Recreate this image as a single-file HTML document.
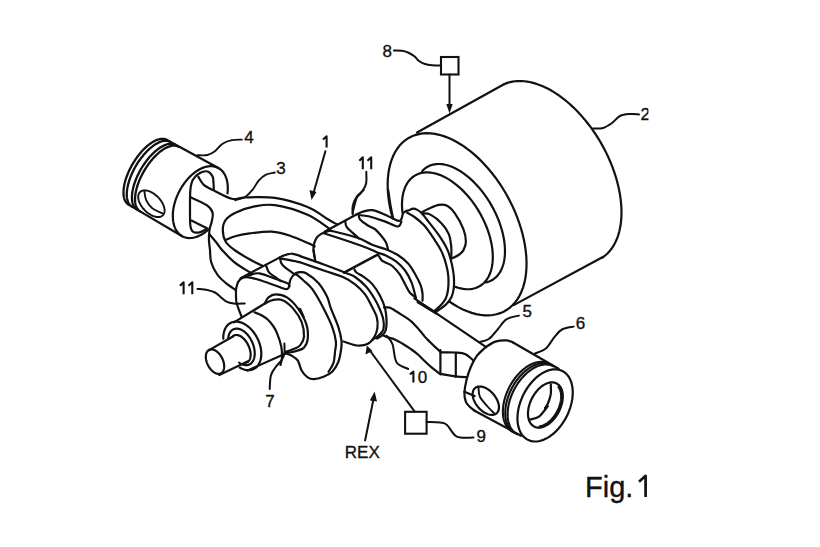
<!DOCTYPE html>
<html><head><meta charset="utf-8"><style>
html,body{margin:0;padding:0;background:#fff;width:820px;height:547px;overflow:hidden}
svg{position:absolute;left:0;top:0}
text{font-family:"Liberation Sans",sans-serif;fill:#111;stroke:#111;stroke-width:0.35px}
</style></head><body>
<svg width="820" height="547" viewBox="0 0 820 547">
<rect width="820" height="547" fill="#fff"/>
<g fill="none" stroke="#111" stroke-linecap="round" stroke-linejoin="round">
<path d="M393.9,50.6 C395.2,50.6 399.6,50.5 402.0,50.8 C404.4,51.1 405.9,51.6 408.0,52.5 C410.1,53.4 412.5,54.8 414.4,56.3 C416.3,57.8 417.6,60.0 419.4,61.3 C421.2,62.6 422.9,63.4 425.0,64.0 C427.1,64.7 429.3,65.0 432.0,65.2 C434.7,65.4 439.5,65.4 441.0,65.4" stroke-width="2.0"/>
<path d="M449.5,74.4 L449.5,106.0" stroke-width="2.0"/>
<path d="M593.0,128.5 C594.7,128.4 599.8,128.9 603.0,128.0 C606.2,127.1 609.2,125.0 612.0,123.0 C614.8,121.0 617.0,117.5 620.0,116.0 C623.0,114.5 626.8,114.3 630.0,114.0 C633.2,113.7 637.5,114.3 639.0,114.4" stroke-width="2.0"/>
<path d="M241.9,139.6 C240.1,139.7 234.2,139.7 230.9,140.4 C227.6,141.1 224.9,142.2 222.2,144.0 C219.5,145.8 217.3,149.5 214.9,151.3 C212.5,153.1 210.4,154.3 207.5,155.0 C204.6,155.7 199.0,155.2 197.3,155.2" stroke-width="1.9"/>
<path d="M274.8,172.5 C273.3,172.9 268.7,173.3 266.0,174.7 C263.3,176.0 260.9,178.2 258.7,180.6 C256.5,183.0 255.1,186.6 252.9,189.3 C250.7,192.0 248.5,194.8 245.6,196.6 C242.7,198.4 237.0,199.7 235.3,200.3" stroke-width="1.9"/>
<path d="M325.4,151.2 L313.5,193.0" stroke-width="2.0"/>
<path d="M366.3,171.7 C366.2,173.8 366.9,180.4 366.0,184.0 C365.1,187.6 362.6,190.7 361.0,193.0 C359.4,195.3 358.0,194.7 356.6,198.0 C355.2,201.3 353.3,210.5 352.6,213.0" stroke-width="2.0"/>
<path d="M197.5,288.9 C199.1,289.1 204.4,289.4 207.3,290.0 C210.2,290.6 212.8,291.4 215.0,292.5 C217.2,293.6 218.7,295.4 220.5,296.9 C222.3,298.4 223.8,300.2 226.0,301.3 C228.2,302.4 230.6,303.1 233.7,303.5 C236.8,303.9 242.9,303.5 244.7,303.5" stroke-width="2.0"/>
<path d="M518.8,315.6 C516.7,316.2 509.8,317.0 506.3,319.3 C502.8,321.6 500.5,326.2 497.6,329.5 C494.7,332.8 491.7,336.9 488.8,339.0 C485.9,341.1 481.5,341.5 480.0,342.0" stroke-width="2.0"/>
<path d="M573.6,326.6 C571.7,327.1 565.2,327.8 562.0,329.5 C558.8,331.2 557.3,333.6 554.6,336.8 C551.9,340.0 549.1,345.7 545.8,348.5 C542.5,351.3 536.8,352.7 535.0,353.5" stroke-width="2.0"/>
<path d="M269.7,388.9 C269.9,386.6 269.9,379.1 270.9,375.4 C271.9,371.7 273.9,369.5 275.8,366.9 C277.7,364.2 280.6,361.8 282.0,359.5 C283.4,357.2 284.0,356.0 284.4,353.4 C284.8,350.8 284.4,345.2 284.4,343.6" stroke-width="2.0"/>
<path d="M408.2,369.0 C406.2,367.9 399.1,366.3 396.5,362.2 C393.9,358.1 394.2,348.9 392.6,344.5 C391.0,340.1 387.7,337.2 386.7,335.7" stroke-width="2.0"/>
<path d="M414.9,411.8 L369.5,350.0" stroke-width="2.0"/>
<path d="M426.6,422.0 C428.8,422.1 436.6,422.0 440.0,422.5 C443.4,423.0 444.2,422.5 447.0,424.9 C449.8,427.2 452.4,434.5 456.8,436.6 C461.2,438.7 470.6,437.4 473.4,437.6" stroke-width="2.0"/>
<path d="M365.1,440.5 L373.5,399.0" stroke-width="2.0"/>
<path d="M417.0,132.5 L504.0,84.2" stroke-width="2.2"/>
<path d="M513.7,305.1 L602.4,257.3" stroke-width="2.2"/>
<path d="M504.00,84.22 L506.05,83.37 L508.17,82.65 L510.35,82.05 L512.59,81.59 L514.89,81.26 L517.23,81.06 L519.63,80.99 L522.07,81.06 L524.55,81.26 L527.06,81.58 L529.62,82.04 L532.20,82.63 L534.81,83.35 L537.44,84.20 L540.09,85.17 L542.76,86.27 L545.44,87.49 L548.12,88.84 L550.81,90.31 L553.50,91.89 L556.19,93.60 L558.86,95.41 L561.53,97.34 L564.18,99.37 L566.81,101.51 L569.42,103.75 L572.00,106.10 L574.55,108.53 L577.06,111.06 L579.54,113.68 L581.98,116.38 L584.37,119.16 L586.71,122.02 L589.00,124.96 L591.23,127.96 L593.41,131.02 L595.52,134.15 L597.57,137.32 L599.55,140.55 L601.46,143.83 L603.30,147.15 L605.06,150.50 L606.75,153.88 L608.35,157.30 L609.87,160.73 L611.30,164.18 L612.65,167.64 L613.90,171.11 L615.07,174.58 L616.14,178.04 L617.12,181.50 L618.00,184.95 L618.79,188.37 L619.47,191.78 L620.06,195.15 L620.55,198.49 L620.93,201.80 L621.22,205.06 L621.40,208.27 L621.48,211.44 L621.46,214.54 L621.34,217.59 L621.11,220.57 L620.78,223.48 L620.35,226.31 L619.83,229.07 L619.20,231.75 L618.47,234.34 L617.64,236.84 L616.72,239.25 L615.70,241.56 L614.59,243.77 L613.39,245.88 L612.09,247.88 L610.71,249.77 L609.24,251.55 L607.69,253.21 L606.05,254.76 L604.33,256.19 L602.54,257.50" stroke-width="2.2"/>
<path d="M392.61,218.16 L391.07,212.27 L389.81,206.42 L388.84,200.66 L388.15,194.99 L387.76,189.44 L387.66,184.05 L387.85,178.82 L388.34,173.79 L389.12,168.96 L390.18,164.38 L391.53,160.05 L393.15,155.98 L395.05,152.21 L397.21,148.75 L399.62,145.60 L402.28,142.78 L405.16,140.31 L408.27,138.20 L411.58,136.45 L415.09,135.07 L418.77,134.07 L422.62,133.45 L426.61,133.22 L430.73,133.37 L434.96,133.90 L439.29,134.82 L443.69,136.12 L448.15,137.79 L452.64,139.82 L457.16,142.22 L461.67,144.96 L466.17,148.03 L470.62,151.43 L475.02,155.14 L479.35,159.14 L483.58,163.42 L487.70,167.95 L491.68,172.72 L495.53,177.71 L499.20,182.90 L502.71,188.26 L506.01,193.77 L509.11,199.42 L512.00,205.16 L514.64,210.99 L517.05,216.88 L519.20,222.80 L521.09,228.72 L522.71,234.63 L524.05,240.49 L525.11,246.28 L525.88,251.98 L526.36,257.56 L526.54,263.01 L526.43,268.28 L526.03,273.38 L525.34,278.26 L524.36,282.92 L523.09,287.33 L521.54,291.47 L519.73,295.33 L517.64,298.88 L515.30,302.12 L512.72,305.04 L509.90,307.61 L506.85,309.82 L503.60,311.68 L500.15,313.17 L496.51,314.28 L492.71,315.01 L488.76,315.35 L484.68,315.31 L480.47,314.89 L476.17,314.08 L471.79,312.90 L467.35,311.33 L462.86,309.40 L458.35,307.11 L453.83,304.47 L449.33,301.49" stroke-width="2.2"/>
<path d="M422.15,171.15 L423.29,169.97 L424.50,168.88 L425.77,167.90 L427.12,167.03 L428.52,166.26 L429.99,165.61 L431.51,165.06 L433.08,164.63 L434.71,164.31 L436.38,164.10 L438.10,164.00 L439.85,164.02 L441.65,164.15 L443.48,164.40 L445.34,164.76 L447.23,165.23 L449.15,165.81 L451.08,166.50 L453.03,167.30 L454.99,168.21 L456.97,169.22 L458.94,170.34 L460.92,171.56 L462.90,172.88 L464.87,174.29 L466.83,175.80 L468.77,177.40 L470.70,179.08 L472.61,180.86 L474.49,182.71 L476.35,184.64 L478.17,186.65 L479.96,188.72 L481.71,190.87 L483.42,193.07 L485.08,195.33 L486.69,197.65 L488.26,200.02 L489.76,202.43 L491.21,204.88 L492.60,207.36 L493.93,209.88 L495.19,212.43 L496.39,214.99 L497.51,217.57 L498.56,220.16 L499.54,222.76 L500.44,225.36 L501.27,227.96 L502.01,230.55 L502.67,233.12 L503.26,235.68 L503.75,238.21 L504.17,240.71 L504.50,243.19 L504.74,245.62 L504.90,248.01 L504.97,250.36 L504.96,252.65 L504.86,254.89 L504.67,257.07 L504.39,259.18 L504.04,261.23 L503.59,263.20 L503.07,265.10 L502.46,266.92 L501.76,268.66 L500.99,270.31 L500.14,271.87 L499.21,273.33 L498.21,274.71 L497.13,275.98 L495.99,277.16 L494.77,278.23 L493.48,279.20 L492.13,280.06 L490.72,280.81 L489.25,281.46 L487.73,281.99 L486.15,282.41" stroke-width="2.2"/>
<path d="M402.54,213.00 L402.20,209.77 L402.02,206.62 L402.00,203.54 L402.13,200.56 L402.41,197.68 L402.85,194.92 L403.45,192.28 L404.19,189.77 L405.08,187.40 L406.12,185.19 L407.30,183.12 L408.62,181.23 L410.07,179.50 L411.65,177.95 L413.35,176.58 L415.17,175.39 L417.10,174.40 L419.13,173.60 L421.26,173.00 L423.48,172.59 L425.78,172.38 L428.16,172.38 L430.60,172.58 L433.10,172.97 L435.65,173.56 L438.24,174.36 L440.86,175.34 L443.50,176.51 L446.16,177.88 L448.82,179.42 L451.47,181.14 L454.11,183.03 L456.73,185.08 L459.32,187.29 L461.87,189.65 L464.36,192.15 L466.80,194.78 L469.17,197.54 L471.47,200.41 L473.68,203.39 L475.81,206.46 L477.83,209.61 L479.75,212.84 L481.57,216.13 L483.26,219.47 L484.83,222.84 L486.27,226.25 L487.58,229.67 L488.75,233.09 L489.78,236.51 L490.66,239.90 L491.40,243.27 L491.98,246.59 L492.41,249.86 L492.69,253.06 L492.81,256.19 L492.77,259.23 L492.58,262.17 L492.23,265.01 L491.73,267.72 L491.08,270.31 L490.28,272.77 L489.33,275.08 L488.24,277.23 L487.00,279.23 L485.63,281.07 L484.13,282.73 L482.50,284.21 L480.76,285.51 L478.90,286.62 L476.93,287.53 L474.85,288.26 L472.69,288.79 L470.44,289.11 L468.10,289.24 L465.70,289.17 L463.24,288.89 L460.72,288.42 L458.15,287.75 L455.55,286.89" stroke-width="2.2"/>
<path d="M128.60,204.63 L128.03,204.26 L127.49,203.84 L126.98,203.38 L126.50,202.86 L126.06,202.30 L125.65,201.69 L125.27,201.04 L124.93,200.34 L124.62,199.60 L124.35,198.82 L124.11,198.00 L123.92,197.13 L123.75,196.23 L123.63,195.29 L123.54,194.32 L123.49,193.31 L123.48,192.27 L123.51,191.20 L123.57,190.10 L123.67,188.98 L123.81,187.82 L123.98,186.64 L124.19,185.45 L124.44,184.23 L124.72,182.99 L125.04,181.73 L125.39,180.47 L125.78,179.18 L126.21,177.89 L126.66,176.59 L127.15,175.28 L127.67,173.97 L128.22,172.66 L128.80,171.34 L129.41,170.03 L130.05,168.72 L130.72,167.41 L131.41,166.12 L132.13,164.83 L132.87,163.55 L133.64,162.29 L134.43,161.05 L135.23,159.82 L136.06,158.60 L136.91,157.42 L137.77,156.25 L138.65,155.11 L139.54,153.99 L140.44,152.91 L141.36,151.85 L142.28,150.82 L143.22,149.83 L144.16,148.87 L145.10,147.95 L146.06,147.07 L147.01,146.22 L147.96,145.42 L148.92,144.65 L149.87,143.93 L150.82,143.26 L151.77,142.62 L152.71,142.04 L153.64,141.50 L154.56,141.01 L155.47,140.56 L156.37,140.17 L157.26,139.82 L158.13,139.53 L158.99,139.28 L159.83,139.09 L160.65,138.94 L161.45,138.85 L162.23,138.81 L162.99,138.82 L163.72,138.89 L164.43,139.00 L165.11,139.17 L165.77,139.39 L166.40,139.65 L167.00,139.97" stroke-width="2.3"/>
<path d="M131.88,206.55 L131.31,206.18 L130.77,205.76 L130.26,205.29 L129.78,204.78 L129.34,204.22 L128.92,203.61 L128.55,202.96 L128.21,202.26 L127.90,201.52 L127.63,200.74 L127.39,199.92 L127.19,199.05 L127.03,198.15 L126.91,197.21 L126.82,196.24 L126.77,195.23 L126.76,194.19 L126.78,193.12 L126.85,192.02 L126.95,190.89 L127.08,189.74 L127.26,188.56 L127.47,187.36 L127.72,186.15 L128.00,184.91 L128.32,183.65 L128.67,182.38 L129.06,181.10 L129.48,179.81 L129.94,178.51 L130.43,177.20 L130.95,175.89 L131.50,174.58 L132.08,173.26 L132.69,171.95 L133.33,170.64 L134.00,169.33 L134.69,168.04 L135.41,166.75 L136.15,165.47 L136.92,164.21 L137.70,162.96 L138.51,161.73 L139.34,160.52 L140.18,159.33 L141.05,158.17 L141.92,157.03 L142.82,155.91 L143.72,154.82 L144.64,153.77 L145.56,152.74 L146.50,151.75 L147.44,150.79 L148.38,149.87 L149.34,148.99 L150.29,148.14 L151.24,147.34 L152.20,146.57 L153.15,145.85 L154.10,145.18 L155.05,144.54 L155.99,143.96 L156.92,143.42 L157.84,142.92 L158.75,142.48 L159.65,142.09 L160.54,141.74 L161.41,141.44 L162.27,141.20 L163.11,141.01 L163.93,140.86 L164.73,140.77 L165.51,140.73 L166.27,140.74 L167.00,140.81 L167.71,140.92 L168.39,141.09 L169.05,141.30 L169.68,141.57 L170.28,141.89" stroke-width="2.3"/>
<path d="M137.06,209.58 L136.49,209.21 L135.94,208.79 L135.44,208.32 L134.96,207.81 L134.51,207.25 L134.10,206.64 L133.73,205.99 L133.38,205.29 L133.08,204.55 L132.81,203.77 L132.57,202.95 L132.37,202.08 L132.21,201.18 L132.09,200.24 L132.00,199.27 L131.95,198.26 L131.94,197.22 L131.96,196.15 L132.03,195.05 L132.13,193.92 L132.26,192.77 L132.44,191.59 L132.65,190.39 L132.90,189.18 L133.18,187.94 L133.50,186.68 L133.85,185.41 L134.24,184.13 L134.66,182.84 L135.12,181.54 L135.61,180.23 L136.13,178.92 L136.68,177.61 L137.26,176.29 L137.87,174.98 L138.51,173.67 L139.18,172.36 L139.87,171.07 L140.59,169.78 L141.33,168.50 L142.10,167.24 L142.88,165.99 L143.69,164.76 L144.52,163.55 L145.36,162.36 L146.23,161.20 L147.10,160.06 L147.99,158.94 L148.90,157.85 L149.81,156.80 L150.74,155.77 L151.67,154.78 L152.62,153.82 L153.56,152.90 L154.51,152.02 L155.47,151.17 L156.42,150.37 L157.38,149.60 L158.33,148.88 L159.28,148.21 L160.22,147.57 L161.16,146.99 L162.09,146.45 L163.02,145.95 L163.93,145.51 L164.83,145.12 L165.72,144.77 L166.59,144.47 L167.45,144.23 L168.28,144.04 L169.10,143.89 L169.91,143.80 L170.69,143.76 L171.44,143.77 L172.18,143.84 L172.89,143.95 L173.57,144.12 L174.23,144.33 L174.86,144.60 L175.46,144.92" stroke-width="2.3"/>
<path d="M140.16,211.39 L139.59,211.03 L139.05,210.61 L138.54,210.14 L138.06,209.63 L137.62,209.07 L137.21,208.46 L136.83,207.81 L136.49,207.11 L136.18,206.37 L135.91,205.59 L135.68,204.76 L135.48,203.90 L135.32,203.00 L135.19,202.06 L135.11,201.09 L135.06,200.08 L135.04,199.04 L135.07,197.97 L135.13,196.87 L135.23,195.74 L135.37,194.59 L135.54,193.41 L135.75,192.21 L136.00,190.99 L136.29,189.76 L136.60,188.50 L136.96,187.23 L137.35,185.95 L137.77,184.66 L138.23,183.36 L138.71,182.05 L139.23,180.74 L139.79,179.42 L140.37,178.11 L140.98,176.80 L141.62,175.49 L142.28,174.18 L142.98,172.88 L143.69,171.60 L144.44,170.32 L145.20,169.06 L145.99,167.81 L146.80,166.58 L147.62,165.37 L148.47,164.18 L149.33,163.02 L150.21,161.87 L151.10,160.76 L152.01,159.67 L152.92,158.62 L153.85,157.59 L154.78,156.60 L155.72,155.64 L156.67,154.72 L157.62,153.84 L158.57,152.99 L159.53,152.19 L160.48,151.42 L161.44,150.70 L162.39,150.02 L163.33,149.39 L164.27,148.81 L165.20,148.27 L166.12,147.77 L167.04,147.33 L167.94,146.93 L168.82,146.59 L169.70,146.29 L170.55,146.05 L171.39,145.85 L172.21,145.71 L173.01,145.62 L173.79,145.58 L174.55,145.59 L175.28,145.65 L175.99,145.77 L176.68,145.94 L177.33,146.15 L177.96,146.42 L178.57,146.74" stroke-width="2.3"/>
<path d="M167.0,140.0 L218.8,168.2" stroke-width="2.2"/>
<path d="M128.6,204.6 L181.8,236.0" stroke-width="2.2"/>
<path d="M208.29,229.77 L206.57,231.19 L204.84,232.49 L203.08,233.66 L201.31,234.70 L199.54,235.61 L197.77,236.37 L196.01,237.00 L194.27,237.48 L192.55,237.81 L190.87,237.99 L189.22,238.03 L187.63,237.91 L186.08,237.65 L184.59,237.23 L183.17,236.68 L181.82,235.98 L180.55,235.13 L179.36,234.15 L178.25,233.04 L177.24,231.80 L176.32,230.43 L175.51,228.95 L174.79,227.36 L174.18,225.66 L173.68,223.86 L173.30,221.97 L173.02,220.00 L172.86,217.96 L172.81,215.84 L172.87,213.68 L173.05,211.46 L173.34,209.21 L173.75,206.92 L174.26,204.62 L174.89,202.30 L175.62,199.98 L176.45,197.68 L177.38,195.39 L178.41,193.13 L179.52,190.90 L180.73,188.73 L182.01,186.61 L183.37,184.55 L184.80,182.56 L186.30,180.66 L187.85,178.85 L189.46,177.13 L191.11,175.52 L192.80,174.02 L194.52,172.63 L196.26,171.37 L198.02,170.23 L199.79,169.23 L201.57,168.36 L203.33,167.63 L205.09,167.05 L206.82,166.61 L208.53,166.32 L210.21,166.18 L211.84,166.19 L213.42,166.35 L214.95,166.66 L216.42,167.11 L217.82,167.71 L219.15,168.45 L220.40,169.33 L221.57,170.35 L222.65,171.50 L223.63,172.78 L224.52,174.18 L225.31,175.69 L225.99,177.32 L226.57,179.05 L227.04,180.87 L227.40,182.78 L227.64,184.78 L227.77,186.84 L227.79,188.97 L227.69,191.15 L227.48,193.38" stroke-width="2.2"/>
<path d="M213.8,190.0 C213.8,188.8 213.7,185.2 213.5,183.0 C213.3,180.8 213.6,178.4 212.6,176.5 C211.6,174.6 209.9,172.1 207.7,171.5 C205.5,170.9 202.0,171.8 199.5,173.2 C197.0,174.6 194.4,177.0 192.9,179.7 C191.4,182.4 190.9,184.6 190.4,189.6 C189.9,194.6 190.0,203.4 190.0,209.4 C190.0,215.4 189.9,222.1 190.4,225.8 C190.9,229.5 191.4,230.5 192.9,231.6 C194.4,232.7 197.3,232.8 199.5,232.4 C201.7,232.0 205.0,229.7 206.1,229.1" stroke-width="2.2"/>
<path d="M140.00,192.05 L140.55,191.58 L141.18,191.18 L141.86,190.86 L142.61,190.61 L143.41,190.45 L144.26,190.37 L145.15,190.37 L146.08,190.45 L147.04,190.62 L148.03,190.86 L149.05,191.19 L150.07,191.59 L151.11,192.07 L152.14,192.62 L153.17,193.23 L154.20,193.91 L155.20,194.65 L156.18,195.45 L157.13,196.30 L158.04,197.19 L158.92,198.13 L159.75,199.10 L160.52,200.09 L161.24,201.11 L161.90,202.15 L162.50,203.19 L163.02,204.24 L163.48,205.28 L163.86,206.32 L164.16,207.33 L164.39,208.33 L164.53,209.30 L164.60,210.23 L164.58,211.12 L164.48,211.97 L164.30,212.77 L164.04,213.51 L163.70,214.18 L163.29,214.80 L162.80,215.35 L162.25,215.82 L161.62,216.22 L160.94,216.54 L160.19,216.79 L159.39,216.95 L158.54,217.03 L157.65,217.03 L156.72,216.95 L155.76,216.78 L154.77,216.54 L153.75,216.21 L152.73,215.81 L151.69,215.33 L150.66,214.78 L149.63,214.17 L148.60,213.49 L147.60,212.75 L146.62,211.95 L145.67,211.10 L144.76,210.21 L143.88,209.27 L143.05,208.30 L142.28,207.31 L141.56,206.29 L140.90,205.25 L140.30,204.21 L139.78,203.16 L139.32,202.12 L138.94,201.08 L138.64,200.07 L138.41,199.07 L138.27,198.10 L138.20,197.17 L138.22,196.28 L138.32,195.43 L138.50,194.63 L138.76,193.89 L139.10,193.22 L139.51,192.60 Z" stroke-width="1.9"/>
<path d="M144.3,190.6 C144.6,192.1 144.8,196.9 146.1,199.8 C147.4,202.7 149.2,205.7 152.0,208.0 C154.8,210.3 160.8,212.6 162.6,213.5" stroke-width="1.9"/>
<path d="M198.4,177.0 C199.3,178.3 201.1,182.5 203.8,184.8 C206.5,187.1 210.0,188.7 214.7,191.0 C219.4,193.3 226.8,197.7 231.8,198.8 C236.9,199.9 237.8,197.7 245.0,197.5 C252.2,197.3 264.6,196.3 275.0,197.9 C285.4,199.5 298.9,203.5 307.6,207.0 C316.3,210.5 322.1,215.8 327.0,218.7 C331.9,221.6 335.3,223.5 337.0,224.5" stroke-width="2.2"/>
<path d="M190.6,197.3 C193.3,198.6 203.0,202.6 206.7,205.2 C210.4,207.8 211.8,209.9 212.6,212.6 C213.4,215.3 212.3,218.6 211.8,221.3 C211.3,224.0 210.0,227.4 209.6,228.6" stroke-width="2.2"/>
<path d="M191.4,220.6 L207.0,228.3" stroke-width="2.2"/>
<path d="M209.6,228.6 C209.5,230.3 208.8,235.3 208.9,238.9 C209.0,242.5 209.8,248.2 210.0,250.0" stroke-width="2.2"/>
<path d="M209.6,234.5 C210.7,235.8 213.9,239.4 216.0,242.0 C218.1,244.6 218.9,246.6 222.0,250.0 C225.1,253.4 229.7,258.5 234.5,262.3 C239.3,266.1 248.2,271.2 251.0,273.0" stroke-width="2.2"/>
<path d="M329.0,228.5 C325.4,226.2 316.6,218.7 307.6,214.8 C298.6,210.9 284.0,206.5 275.0,205.2 C266.0,203.8 260.0,205.5 253.5,206.7 C247.0,207.9 240.6,210.4 236.0,212.6 C231.4,214.8 227.9,217.0 225.7,219.9 C223.5,222.8 222.8,226.4 222.8,230.1 C222.8,233.8 223.8,238.5 225.7,241.8 C227.6,245.1 230.4,247.0 234.5,250.0 C238.6,253.0 245.7,257.2 250.4,259.8 C255.1,262.4 260.6,264.9 262.7,265.9" stroke-width="2.2"/>
<path d="M225.5,240.0 C227.2,239.3 231.9,237.1 236.0,236.0 C240.1,234.9 243.9,234.0 249.9,233.3 C255.9,232.6 265.1,231.3 271.8,231.7 C278.5,232.1 283.4,233.5 290.1,235.7 C296.8,237.9 307.9,243.1 312.0,244.9 C316.1,246.7 314.1,246.2 314.5,246.5" stroke-width="2.2"/>
<path d="M210.0,250.0 C210.2,252.0 210.0,258.2 211.2,262.2 C212.4,266.3 214.9,271.0 217.3,274.5 C219.8,278.0 222.8,280.5 225.9,283.1 C229.0,285.7 234.3,289.0 236.0,290.2" stroke-width="2.2"/>
<path d="M240.6,278.2 L282.3,256.1" stroke-width="2.2"/>
<path d="M282.3,256.1 C283.7,255.7 287.9,253.7 290.9,253.7 C293.8,253.6 298.5,255.5 300.0,255.9" stroke-width="2.2"/>
<path d="M281.1,258.6 C283.5,259.0 292.6,260.6 295.8,261.3 C298.9,261.9 299.3,262.1 300.0,262.3" stroke-width="2.2"/>
<path d="M235.7,290.4 C236.1,289.0 237.0,284.0 238.2,281.9 C239.4,279.8 240.9,278.3 243.1,277.6 C245.3,276.9 247.2,276.9 251.5,277.8 C255.8,278.7 263.7,281.4 269.0,283.2 C274.3,285.0 280.4,287.5 283.5,288.5 C286.6,289.5 286.5,289.3 287.4,289.0 C288.3,288.7 288.5,288.2 289.0,286.6 C289.5,285.0 289.4,281.7 290.5,279.5 C291.6,277.3 293.7,274.6 295.4,273.4 C297.1,272.1 299.8,272.2 300.7,272.0" stroke-width="2.2"/>
<path d="M236.0,290.4 C236.0,292.3 235.8,298.0 236.3,301.4 C236.9,304.9 238.5,308.7 239.4,311.2 C240.3,313.8 241.4,316.0 241.8,317.0" stroke-width="2.2"/>
<path d="M246.0,276.3 C246.7,276.1 247.8,275.5 250.0,275.0 C252.2,274.5 254.8,272.7 259.3,273.4 C263.8,274.1 272.5,277.8 276.8,279.3 C281.1,280.8 283.0,281.5 285.0,282.3 C287.0,283.1 287.9,283.3 288.6,284.0 C289.3,284.7 289.3,286.1 289.4,286.5" stroke-width="2.2"/>
<path d="M266.1,265.6 C266.6,266.7 267.5,270.5 269.0,272.4 C270.5,274.3 273.0,275.5 275.0,277.0 C277.0,278.5 279.8,280.5 280.8,281.2" stroke-width="2.2"/>
<path d="M279.8,257.4 C280.2,258.6 280.0,262.0 282.3,264.7 C284.5,267.4 291.0,271.6 293.3,273.3 C295.6,274.9 295.9,274.3 296.4,274.5" stroke-width="2.2"/>
<path d="M313.5,250.0 C313.6,251.0 314.1,254.2 314.5,256.1 C314.8,258.0 315.2,260.4 315.3,261.3" stroke-width="2.2"/>
<path d="M300.0,256.1 C304.1,257.5 316.9,261.9 324.5,264.7 C332.1,267.5 340.2,270.6 345.3,272.7 C350.4,274.8 351.6,274.6 355.1,277.0 C358.6,279.4 362.9,283.1 366.2,286.8 C369.5,290.5 372.5,295.3 374.7,299.0 C376.9,302.7 378.2,305.3 379.6,308.8 C381.1,312.3 382.8,316.7 383.4,320.1 C384.0,323.5 384.1,326.9 383.4,329.4 C382.7,331.8 381.1,333.1 379.4,334.8 C377.7,336.5 374.1,338.7 373.0,339.5" stroke-width="2.2"/>
<path d="M300.0,262.3 C304.1,263.7 317.4,268.4 324.5,270.8 C331.6,273.2 337.8,274.8 342.9,277.0 C348.0,279.2 351.4,281.4 355.1,284.3 C358.8,287.2 362.2,290.6 364.9,294.1 C367.6,297.6 369.1,301.2 371.1,305.1 C373.1,309.0 375.8,313.6 376.8,317.4 C377.9,321.2 377.8,324.8 377.4,328.1 C376.9,331.4 375.8,334.7 374.1,337.4 C372.4,340.1 370.3,342.8 367.4,344.1 C364.5,345.5 360.7,345.9 356.7,345.5 C352.7,345.1 345.6,342.2 343.4,341.5" stroke-width="2.2"/>
<path d="M344.1,272.7 L377.2,254.9" stroke-width="2.6"/>
<path d="M354.5,269.5 C354.8,270.0 355.0,271.3 356.5,272.5 C358.0,273.7 360.7,274.7 363.3,276.6 C365.9,278.5 369.5,280.9 372.3,284.1 C375.1,287.3 377.8,291.6 379.9,295.6 C382.0,299.7 384.0,304.1 385.1,308.4 C386.2,312.7 386.5,317.6 386.6,321.2 C386.7,324.8 386.4,327.8 385.7,330.2 C385.0,332.6 383.9,333.9 382.5,335.3 C381.1,336.7 377.9,338.0 377.0,338.5" stroke-width="2.2"/>
<path d="M300.0,308.8 L303.7,317.0" stroke-width="2.2"/>
<path d="M324.5,231.7 L356.4,214.5" stroke-width="2.2"/>
<path d="M330.6,230.4 C329.0,231.0 323.3,232.7 320.8,234.1 C318.4,235.5 317.1,236.8 315.9,239.0 C314.7,241.2 313.7,244.6 313.5,247.6 C313.2,250.6 314.3,255.4 314.5,257.0" stroke-width="2.2"/>
<path d="M345.3,221.6 C345.5,222.5 345.3,224.9 346.6,226.8 C347.8,228.6 350.6,230.9 352.7,232.9 C354.7,234.8 357.8,237.5 358.8,238.4" stroke-width="2.2"/>
<path d="M363.7,190.0 C362.5,191.2 358.2,194.7 356.4,197.3 C354.5,200.0 353.3,203.1 352.7,205.9 C352.1,208.8 352.7,213.1 352.7,214.5" stroke-width="2.0"/>
<path d="M388.2,190.0 C388.6,192.7 389.8,201.2 390.6,205.9 C391.5,210.6 392.7,216.1 393.1,218.2" stroke-width="2.2"/>
<path d="M329.4,230.4 C334.1,231.6 350.5,235.4 357.6,237.8 C364.7,240.2 367.2,242.8 372.2,244.8 C377.2,246.8 383.3,248.2 387.6,249.9 C391.9,251.6 394.4,252.8 397.8,255.0 C401.2,257.2 405.0,260.0 407.9,263.2 C410.8,266.4 413.1,270.5 415.2,274.2 C417.3,277.9 419.4,282.0 420.6,285.2 C421.8,288.4 422.2,290.8 422.5,293.4 C422.8,296.0 422.5,299.5 422.5,300.7" stroke-width="2.2"/>
<path d="M324.5,233.5 C328.6,234.8 341.8,239.1 349.0,241.5 C356.2,243.9 363.2,246.4 367.9,248.2 C372.6,250.0 374.1,251.2 377.3,252.5 C380.5,253.8 383.7,254.4 386.8,255.9 C389.9,257.4 392.9,259.0 396.0,261.4 C399.1,263.8 402.5,267.0 405.1,270.5 C407.7,274.0 409.8,278.3 411.5,282.4 C413.2,286.5 414.4,292.6 415.2,295.2 C416.0,297.8 416.0,297.5 416.1,298.0" stroke-width="2.2"/>
<path d="M358.8,215.7 C359.0,216.3 358.5,217.8 360.0,219.4 C361.5,221.0 365.4,223.9 367.9,225.5 C370.4,227.1 372.6,227.4 374.8,229.0 C377.0,230.6 379.0,233.1 380.8,235.3 C382.6,237.5 384.7,239.8 385.9,242.2 C387.1,244.6 387.7,248.3 388.1,249.5" stroke-width="2.2"/>
<path d="M378.2,255.1 C378.8,255.9 380.5,259.0 381.6,260.2 C382.7,261.4 383.2,261.3 385.0,262.3 C386.8,263.3 389.9,264.0 392.3,266.0 C394.7,268.0 397.5,271.2 399.6,274.2 C401.7,277.2 403.4,281.1 405.1,284.2 C406.8,287.2 408.0,290.4 409.7,292.5 C411.4,294.6 414.3,296.2 415.2,297.0" stroke-width="2.2"/>
<path d="M407.2,212.8 C408.4,213.5 411.6,214.9 414.5,217.0 C417.4,219.1 421.0,221.9 424.3,225.6 C427.6,229.3 431.2,234.8 434.1,239.1 C437.0,243.4 439.5,247.2 441.5,251.4 C443.5,255.6 444.9,259.9 446.0,264.0 C447.1,268.1 448.0,271.7 448.3,276.0 C448.6,280.3 448.5,286.2 448.0,290.0 C447.5,293.8 446.8,296.4 445.5,299.0 C444.2,301.6 442.3,303.5 440.5,305.5 C438.7,307.5 435.5,310.1 434.5,311.0" stroke-width="2.2"/>
<path d="M421.9,212.2 C423.1,211.5 426.3,209.7 429.2,208.5 C432.1,207.2 435.9,205.2 439.0,204.8 C442.1,204.4 444.9,204.6 447.6,206.0 C450.2,207.5 452.3,209.5 454.9,213.4 C457.6,217.3 461.7,224.6 463.5,229.3 C465.3,234.0 465.9,238.1 465.9,241.6 C465.9,245.0 464.7,247.9 463.5,250.1 C462.3,252.4 460.6,253.6 458.6,255.0 C456.6,256.5 452.5,258.1 451.2,258.7" stroke-width="2.2"/>
<path d="M423.1,213.4 C424.3,213.6 427.4,213.0 430.4,214.6 C433.5,216.2 438.4,219.9 441.4,223.2 C444.5,226.4 447.2,230.3 448.8,234.2 C450.4,238.1 450.8,242.4 451.2,246.4 C451.7,250.5 451.2,256.7 451.2,258.7" stroke-width="2.2"/>
<path d="M209.13,349.89 L209.71,349.65 L210.31,349.48 L210.95,349.38 L211.60,349.37 L212.28,349.42 L212.98,349.56 L213.69,349.76 L214.41,350.04 L215.13,350.40 L215.85,350.82 L216.56,351.30 L217.27,351.85 L217.96,352.46 L218.63,353.13 L219.28,353.85 L219.91,354.62 L220.50,355.43 L221.06,356.27 L221.58,357.15 L222.06,358.06 L222.50,358.99 L222.89,359.94 L223.24,360.89 L223.53,361.86 L223.77,362.81 L223.96,363.77 L224.09,364.70 L224.16,365.62 L224.18,366.52 L224.14,367.38 L224.05,368.21 L223.90,369.00 L223.69,369.74 L223.43,370.43 L223.12,371.07 L222.76,371.65 L222.35,372.16 L221.90,372.62 L221.40,373.00 L220.87,373.31 L220.29,373.55 L219.69,373.72 L219.05,373.82 L218.40,373.83 L217.72,373.78 L217.02,373.64 L216.31,373.44 L215.59,373.16 L214.87,372.80 L214.15,372.38 L213.44,371.90 L212.73,371.35 L212.04,370.74 L211.37,370.07 L210.72,369.35 L210.09,368.58 L209.50,367.77 L208.94,366.93 L208.42,366.05 L207.94,365.14 L207.50,364.21 L207.11,363.26 L206.76,362.31 L206.47,361.34 L206.23,360.39 L206.04,359.43 L205.91,358.50 L205.84,357.58 L205.82,356.68 L205.86,355.82 L205.95,354.99 L206.10,354.20 L206.31,353.46 L206.57,352.77 L206.88,352.13 L207.24,351.55 L207.65,351.04 L208.10,350.58 L208.60,350.20 Z" stroke-width="2.2"/>
<path d="M209.1,350.1 L232.9,336.5" stroke-width="2.2"/>
<path d="M219.3,375.0 L248.0,361.3" stroke-width="2.2"/>
<path d="M232.81,336.40 L233.10,336.14 L233.40,335.91 L233.71,335.70 L234.04,335.52 L234.39,335.36 L234.74,335.24 L235.11,335.14 L235.49,335.06 L235.87,335.01 L236.27,334.99 L236.68,335.00 L237.09,335.03 L237.51,335.10 L237.93,335.18 L238.37,335.30 L238.80,335.44 L239.24,335.61 L239.68,335.80 L240.12,336.02 L240.57,336.27 L241.01,336.54 L241.46,336.83 L241.90,337.15 L242.34,337.49 L242.77,337.85 L243.21,338.24 L243.63,338.65 L244.05,339.07 L244.47,339.52 L244.87,339.98 L245.27,340.46 L245.66,340.96 L246.04,341.47 L246.41,342.00 L246.76,342.54 L247.11,343.09 L247.44,343.66 L247.76,344.23 L248.06,344.82 L248.35,345.41 L248.63,346.01 L248.89,346.61 L249.13,347.22 L249.36,347.84 L249.56,348.45 L249.76,349.07 L249.93,349.68 L250.08,350.30 L250.22,350.91 L250.34,351.51 L250.44,352.12 L250.52,352.71 L250.58,353.30 L250.62,353.88 L250.64,354.45 L250.64,355.01 L250.62,355.55 L250.58,356.09 L250.52,356.61 L250.45,357.11 L250.35,357.60 L250.24,358.07 L250.10,358.53 L249.95,358.96 L249.78,359.38 L249.59,359.77 L249.38,360.14 L249.16,360.50 L248.91,360.82 L248.66,361.13 L248.38,361.41 L248.10,361.67 L247.79,361.90 L247.48,362.10 L247.15,362.29 L246.80,362.44 L246.45,362.57 L246.08,362.67 L245.70,362.74 L245.31,362.79" stroke-width="2.2"/>
<path d="M228.13,338.78 L228.23,337.82 L228.38,336.89 L228.57,335.99 L228.81,335.13 L229.10,334.32 L229.43,333.55 L229.80,332.82 L230.21,332.15 L230.67,331.53 L231.16,330.97 L231.69,330.46 L232.25,330.01 L232.85,329.63 L233.48,329.30 L234.13,329.04 L234.82,328.84 L235.52,328.71 L236.25,328.64 L236.99,328.63 L237.76,328.70 L238.53,328.82 L239.31,329.02 L240.11,329.27 L240.90,329.59 L241.70,329.97 L242.50,330.41 L243.29,330.92 L244.08,331.47 L244.85,332.09 L245.62,332.75 L246.37,333.47 L247.10,334.24 L247.81,335.05 L248.50,335.90 L249.16,336.79 L249.80,337.72 L250.40,338.68 L250.97,339.68 L251.51,340.69 L252.01,341.73 L252.48,342.79 L252.90,343.86 L253.28,344.95 L253.63,346.04 L253.92,347.13 L254.17,348.22 L254.38,349.31 L254.54,350.39 L254.65,351.46 L254.72,352.51 L254.73,353.54 L254.70,354.55 L254.63,355.52 L254.50,356.47 L254.33,357.39 L254.11,358.26 L253.85,359.10 L253.54,359.89 L253.18,360.64 L252.79,361.33 L252.35,361.98 L251.88,362.57 L251.37,363.10 L250.82,363.58 L250.24,364.00 L249.63,364.35 L248.98,364.64 L248.31,364.87 L247.62,365.04 L246.90,365.14 L246.16,365.17 L245.41,365.14 L244.64,365.05 L243.86,364.88 L243.07,364.66 L242.28,364.37 L241.48,364.02 L240.68,363.60 L239.89,363.13 L239.10,362.60" stroke-width="2.2"/>
<path d="M223.29,338.79 L223.28,337.38 L223.35,336.01 L223.48,334.68 L223.68,333.38 L223.95,332.14 L224.29,330.94 L224.70,329.80 L225.17,328.72 L225.71,327.71 L226.31,326.76 L226.97,325.89 L227.68,325.08 L228.45,324.36 L229.28,323.72 L230.15,323.16 L231.06,322.68 L232.02,322.29 L233.01,321.99 L234.05,321.78 L235.11,321.65 L236.19,321.62 L237.30,321.68 L238.43,321.83 L239.58,322.07 L240.73,322.40 L241.89,322.81 L243.05,323.31 L244.21,323.90 L245.36,324.56 L246.50,325.31 L247.63,326.13 L248.73,327.03 L249.81,328.00 L250.86,329.03 L251.88,330.13 L252.87,331.29 L253.82,332.50 L254.72,333.76 L255.57,335.06 L256.38,336.41 L257.13,337.79 L257.83,339.20 L258.47,340.64 L259.06,342.10 L259.57,343.57 L260.03,345.05 L260.42,346.53 L260.74,348.01 L260.99,349.48 L261.17,350.94 L261.28,352.38 L261.32,353.79 L261.29,355.18 L261.19,356.53 L261.02,357.84 L260.78,359.11 L260.47,360.33 L260.09,361.50 L259.65,362.60 L259.14,363.65 L258.57,364.62 L257.93,365.53 L257.24,366.37 L256.50,367.13 L255.70,367.81 L254.85,368.40 L253.95,368.92 L253.01,369.35 L252.03,369.69 L251.02,369.94 L249.97,370.10 L248.90,370.17 L247.79,370.16 L246.67,370.05 L245.53,369.85 L244.38,369.56 L243.23,369.19 L242.07,368.72 L240.91,368.17 L239.75,367.54" stroke-width="2.2"/>
<path d="M234.0,322.4 L264.8,303.5" stroke-width="2.2"/>
<path d="M247.6,370.5 L285.6,353.4" stroke-width="2.2"/>
<path d="M254.5,312.3 C255.8,312.8 259.8,314.2 262.0,315.5 C264.2,316.8 266.1,318.0 268.0,319.8 C269.9,321.6 271.9,324.2 273.5,326.5 C275.1,328.8 276.0,330.5 277.3,333.8 C278.6,337.1 280.4,342.3 281.2,346.2 C282.0,350.1 282.1,354.0 282.0,357.1 C281.9,360.2 280.8,363.7 280.5,365.0" stroke-width="2.2"/>
<path d="M264.8,303.5 C265.4,302.5 266.6,298.9 268.5,297.4 C270.3,295.8 272.8,294.3 275.8,294.3 C278.9,294.3 283.2,295.0 286.9,297.4 C290.5,299.7 294.6,303.9 297.9,308.4 C301.1,312.9 304.8,319.2 306.4,324.3 C308.1,329.4 308.1,335.1 307.7,339.0 C307.3,342.9 306.0,345.5 304.0,347.6 C302.0,349.6 298.7,350.3 295.4,351.2 C292.2,352.2 286.2,353.1 284.4,353.5" stroke-width="2.2"/>
<path d="M264.8,303.5 C266.2,302.9 270.3,300.3 273.4,299.8 C276.4,299.3 279.9,299.0 283.2,300.4 C286.4,301.8 289.9,304.8 293.0,308.4 C296.0,311.9 299.7,317.2 301.6,321.9 C303.4,326.5 304.2,332.7 304.0,336.6 C303.8,340.4 302.0,343.1 300.3,345.1 C298.7,347.2 296.6,347.7 294.2,348.8 C291.8,349.9 287.1,351.4 285.6,351.9" stroke-width="2.2"/>
<path d="M414.3,298.4 L486.2,347.2" stroke-width="2.2"/>
<path d="M418.0,302.0 L436.0,313.0" stroke-width="3.0"/>
<path d="M384.0,307.5 C384.5,307.5 385.8,307.2 387.0,307.3 C388.2,307.4 389.1,307.1 391.5,308.4 C393.9,309.6 398.4,312.6 401.7,314.8 C405.0,317.0 408.2,318.7 411.2,321.3 C414.2,323.9 417.4,327.7 419.6,330.2 C421.8,332.7 422.6,334.1 424.3,336.1 C426.0,338.1 428.1,340.1 430.0,342.0 C431.9,343.9 434.0,345.9 435.8,347.6 C437.6,349.3 440.0,351.4 440.8,352.2" stroke-width="2.2"/>
<path d="M440.8,352.4 C443.3,352.4 451.5,352.2 455.6,352.5 C459.7,352.8 462.5,352.8 465.5,354.2 C468.5,355.6 472.3,359.7 473.7,360.8" stroke-width="2.2"/>
<path d="M382.3,334.8 C383.0,335.1 384.4,336.1 386.5,336.9 C388.6,337.7 391.9,338.2 394.7,339.4 C397.4,340.6 400.2,342.4 403.0,344.0 C405.8,345.6 408.7,347.6 411.2,349.3 C413.7,351.1 415.8,352.6 418.0,354.5 C420.2,356.4 422.3,358.9 424.3,360.8 C426.3,362.7 428.1,364.4 430.0,366.0 C431.9,367.6 434.0,369.4 435.8,370.7 C437.6,372.0 437.5,372.9 440.8,373.9 C444.1,374.8 451.2,375.8 455.6,376.4 C460.0,376.9 465.2,377.1 467.1,377.2" stroke-width="2.2"/>
<path d="M440.4,350.0 L440.4,374.5" stroke-width="2.2"/>
<path d="M455.8,353.2 L455.8,377.0" stroke-width="2.2"/>
<path d="M562.28,370.95 L563.92,371.90 L565.46,373.06 L566.86,374.42 L568.13,375.97 L569.26,377.70 L570.24,379.60 L571.06,381.66 L571.73,383.87 L572.23,386.21 L572.56,388.67 L572.73,391.23 L572.72,393.88 L572.54,396.60 L572.20,399.38 L571.68,402.19 L571.01,405.02 L570.17,407.86 L569.18,410.68 L568.04,413.46 L566.76,416.20 L565.34,418.87 L563.80,421.45 L562.15,423.94 L560.39,426.32 L558.53,428.56 L556.60,430.66 L554.59,432.61 L552.52,434.39 L550.41,435.99 L548.27,437.40 L546.10,438.61 L543.93,439.62 L541.77,440.42 L539.63,441.00 L537.52,441.36 L535.45,441.51 L533.45,441.42 L531.52,441.12 L529.67,440.60 L527.92,439.85 L526.28,438.90 L524.74,437.74 L523.34,436.38 L522.07,434.83 L520.94,433.10 L519.96,431.20 L519.14,429.14 L518.47,426.93 L517.97,424.59 L517.64,422.13 L517.47,419.57 L517.48,416.92 L517.66,414.20 L518.00,411.42 L518.52,408.61 L519.19,405.78 L520.03,402.94 L521.02,400.12 L522.16,397.34 L523.44,394.60 L524.86,391.93 L526.40,389.35 L528.05,386.86 L529.81,384.48 L531.67,382.24 L533.60,380.14 L535.61,378.19 L537.68,376.41 L539.79,374.81 L541.93,373.40 L544.10,372.19 L546.27,371.18 L548.43,370.38 L550.57,369.80 L552.68,369.44 L554.75,369.29 L556.75,369.38 L558.68,369.68 L560.53,370.20 Z" stroke-width="2.2"/>
<path d="M556.66,383.47 L557.67,384.08 L558.60,384.82 L559.45,385.68 L560.21,386.67 L560.89,387.76 L561.47,388.97 L561.94,390.27 L562.32,391.66 L562.59,393.14 L562.76,394.69 L562.82,396.30 L562.77,397.96 L562.62,399.67 L562.36,401.42 L561.99,403.18 L561.52,404.95 L560.95,406.73 L560.29,408.50 L559.54,410.24 L558.69,411.95 L557.77,413.62 L556.77,415.23 L555.70,416.78 L554.56,418.26 L553.37,419.66 L552.13,420.97 L550.85,422.18 L549.54,423.28 L548.20,424.27 L546.84,425.14 L545.47,425.89 L544.11,426.51 L542.75,426.99 L541.40,427.34 L540.09,427.55 L538.80,427.63 L537.56,427.56 L536.36,427.36 L535.22,427.01 L534.14,426.53 L533.13,425.92 L532.20,425.18 L531.35,424.32 L530.59,423.33 L529.91,422.24 L529.33,421.03 L528.86,419.73 L528.48,418.34 L528.21,416.86 L528.04,415.31 L527.98,413.70 L528.03,412.04 L528.18,410.33 L528.44,408.58 L528.81,406.82 L529.28,405.05 L529.85,403.27 L530.51,401.50 L531.26,399.76 L532.11,398.05 L533.03,396.38 L534.03,394.77 L535.10,393.22 L536.24,391.74 L537.43,390.34 L538.67,389.03 L539.95,387.82 L541.26,386.72 L542.60,385.73 L543.96,384.86 L545.33,384.11 L546.69,383.49 L548.05,383.01 L549.40,382.66 L550.71,382.45 L552.00,382.37 L553.24,382.44 L554.44,382.64 L555.58,382.99 Z" stroke-width="2.2"/>
<path d="M550.8,384.3 C550.8,385.9 551.2,390.8 550.8,394.0 C550.3,397.3 548.8,401.5 547.8,403.8 C546.8,406.1 545.4,407.3 544.9,408.0" stroke-width="2.2"/>
<path d="M547.8,406.3 C546.3,408.0 541.9,414.4 539.0,416.6 C536.1,418.8 531.7,419.0 530.2,419.5" stroke-width="2.2"/>
<path d="M548.66,363.70 L547.83,363.29 L546.98,362.92 L546.11,362.61 L545.21,362.35 L544.29,362.15 L543.34,362.00 L542.38,361.90 L541.40,361.86 L540.40,361.88 L539.39,361.95 L538.36,362.07 L537.32,362.26 L536.27,362.49 L535.21,362.78 L534.14,363.12 L533.07,363.52 L531.99,363.97 L530.91,364.47 L529.83,365.02 L528.75,365.62 L527.67,366.27 L526.60,366.97 L525.53,367.72 L524.47,368.51 L523.42,369.35 L522.38,370.23 L521.35,371.15 L520.34,372.12 L519.34,373.12 L518.36,374.16 L517.40,375.24 L516.46,376.35 L515.54,377.50 L514.64,378.67 L513.77,379.88 L512.92,381.11 L512.10,382.37 L511.30,383.65 L510.54,384.95 L509.81,386.27 L509.11,387.61 L508.44,388.97 L507.81,390.33 L507.21,391.71 L506.64,393.10 L506.12,394.50 L505.63,395.90 L505.18,397.30 L504.76,398.70 L504.39,400.10 L504.06,401.50 L503.77,402.89 L503.51,404.28 L503.31,405.65 L503.14,407.01 L503.01,408.36 L502.93,409.69 L502.89,411.00 L502.89,412.29 L502.93,413.56 L503.02,414.80 L503.15,416.02 L503.32,417.21 L503.53,418.36 L503.78,419.49 L504.08,420.58 L504.41,421.64 L504.79,422.66 L505.20,423.64 L505.65,424.58 L506.15,425.48 L506.68,426.34 L507.24,427.15 L507.84,427.91 L508.48,428.63 L509.15,429.31 L509.85,429.93 L510.59,430.50 L511.35,431.03 L512.14,431.50" stroke-width="2.1"/>
<path d="M551.02,365.00 L550.20,364.58 L549.35,364.22 L548.48,363.90 L547.58,363.65 L546.66,363.44 L545.71,363.29 L544.75,363.20 L543.77,363.16 L542.77,363.17 L541.75,363.24 L540.73,363.37 L539.69,363.55 L538.63,363.79 L537.57,364.08 L536.51,364.42 L535.43,364.81 L534.36,365.26 L533.28,365.76 L532.20,366.32 L531.12,366.92 L530.04,367.57 L528.97,368.27 L527.90,369.01 L526.84,369.81 L525.79,370.64 L524.75,371.53 L523.72,372.45 L522.71,373.41 L521.71,374.42 L520.73,375.46 L519.77,376.54 L518.83,377.65 L517.91,378.79 L517.01,379.97 L516.13,381.17 L515.29,382.40 L514.47,383.66 L513.67,384.94 L512.91,386.25 L512.18,387.57 L511.48,388.91 L510.81,390.26 L510.17,391.63 L509.57,393.01 L509.01,394.40 L508.48,395.79 L508.00,397.19 L507.54,398.60 L507.13,400.00 L506.76,401.40 L506.43,402.80 L506.13,404.19 L505.88,405.57 L505.67,406.95 L505.51,408.31 L505.38,409.65 L505.30,410.98 L505.25,412.30 L505.26,413.59 L505.30,414.85 L505.39,416.10 L505.51,417.31 L505.68,418.50 L505.90,419.66 L506.15,420.79 L506.44,421.88 L506.78,422.93 L507.15,423.95 L507.57,424.94 L508.02,425.88 L508.51,426.78 L509.04,427.63 L509.61,428.44 L510.21,429.21 L510.85,429.93 L511.52,430.60 L512.22,431.23 L512.95,431.80 L513.72,432.32 L514.51,432.79" stroke-width="2.1"/>
<path d="M553.39,366.30 L552.57,365.88 L551.72,365.51 L550.84,365.20 L549.94,364.94 L549.02,364.74 L548.08,364.59 L547.12,364.49 L546.13,364.45 L545.14,364.47 L544.12,364.54 L543.09,364.67 L542.05,364.85 L541.00,365.08 L539.94,365.37 L538.87,365.71 L537.80,366.11 L536.72,366.56 L535.64,367.06 L534.56,367.61 L533.48,368.21 L532.41,368.86 L531.33,369.56 L530.27,370.31 L529.21,371.10 L528.16,371.94 L527.12,372.82 L526.09,373.75 L525.08,374.71 L524.08,375.71 L523.10,376.75 L522.14,377.83 L521.19,378.94 L520.27,380.09 L519.38,381.26 L518.50,382.47 L517.65,383.70 L516.83,384.96 L516.04,386.24 L515.28,387.54 L514.55,388.86 L513.84,390.20 L513.18,391.56 L512.54,392.93 L511.94,394.31 L511.38,395.69 L510.85,397.09 L510.36,398.49 L509.91,399.89 L509.50,401.30 L509.13,402.70 L508.79,404.09 L508.50,405.49 L508.25,406.87 L508.04,408.24 L507.87,409.60 L507.75,410.95 L507.66,412.28 L507.62,413.59 L507.62,414.88 L507.67,416.15 L507.75,417.39 L507.88,418.61 L508.05,419.80 L508.26,420.96 L508.52,422.08 L508.81,423.17 L509.15,424.23 L509.52,425.25 L509.94,426.23 L510.39,427.17 L510.88,428.07 L511.41,428.93 L511.98,429.74 L512.58,430.51 L513.21,431.23 L513.88,431.90 L514.59,432.52 L515.32,433.09 L516.09,433.62 L516.88,434.09" stroke-width="2.1"/>
<path d="M485.6,347.2 C487.2,346.3 491.9,342.7 495.4,341.6 C498.9,340.5 503.6,340.3 506.5,340.4 C509.4,340.5 511.6,342.0 512.6,342.3" stroke-width="2.2"/>
<path d="M512.6,342.3 L558.6,368.7" stroke-width="2.2"/>
<path d="M485.6,347.2 C484.2,348.6 479.4,352.4 477.0,355.7 C474.6,359.0 472.6,362.8 470.9,366.8 C469.1,370.9 467.6,375.6 466.5,380.0 C465.4,384.4 464.5,389.6 464.4,393.2 C464.3,396.8 465.0,399.6 465.9,401.9 C466.8,404.2 468.6,405.5 470.0,407.0 C471.4,408.5 473.8,410.1 474.6,410.7" stroke-width="2.2"/>
<path d="M474.6,410.7 L521.0,435.8" stroke-width="2.2"/>
<path d="M464.4,391.7 L474.6,396.1" stroke-width="2.2"/>
<path d="M475.06,388.04 L475.69,387.57 L476.39,387.18 L477.14,386.88 L477.95,386.66 L478.80,386.53 L479.70,386.48 L480.63,386.53 L481.60,386.66 L482.59,386.87 L483.60,387.17 L484.63,387.56 L485.66,388.03 L486.69,388.57 L487.72,389.19 L488.74,389.88 L489.74,390.64 L490.71,391.46 L491.65,392.33 L492.56,393.26 L493.43,394.23 L494.25,395.25 L495.01,396.29 L495.72,397.37 L496.37,398.46 L496.95,399.57 L497.47,400.68 L497.91,401.80 L498.28,402.91 L498.57,404.00 L498.78,405.08 L498.92,406.13 L498.97,407.14 L498.94,408.12 L498.83,409.04 L498.64,409.92 L498.37,410.74 L498.02,411.50 L497.60,412.19 L497.10,412.81 L496.54,413.36 L495.91,413.83 L495.21,414.22 L494.46,414.52 L493.65,414.74 L492.80,414.87 L491.90,414.92 L490.97,414.87 L490.00,414.74 L489.01,414.53 L488.00,414.23 L486.97,413.84 L485.94,413.37 L484.91,412.83 L483.88,412.21 L482.86,411.52 L481.86,410.76 L480.89,409.94 L479.95,409.07 L479.04,408.14 L478.17,407.17 L477.35,406.15 L476.59,405.11 L475.88,404.03 L475.23,402.94 L474.65,401.83 L474.13,400.72 L473.69,399.60 L473.32,398.49 L473.03,397.40 L472.82,396.32 L472.68,395.27 L472.63,394.26 L472.66,393.28 L472.77,392.36 L472.96,391.48 L473.23,390.66 L473.58,389.90 L474.00,389.21 L474.50,388.59 Z" stroke-width="2.2"/>
<path d="M478.5,388.0 C478.8,389.5 478.4,393.8 480.0,397.0 C481.6,400.2 485.7,404.3 488.0,407.0 C490.3,409.7 493.0,412.0 494.0,413.0" stroke-width="1.9"/>
<path d="M300.0,272.1 C301.0,272.3 303.0,271.5 306.1,273.3 C309.2,275.1 314.9,279.2 318.4,283.1 C321.9,287.0 324.9,292.4 327.0,296.6 C329.1,300.8 329.0,303.4 330.9,308.4 C332.8,313.4 336.5,321.4 338.3,326.8 C340.1,332.2 341.1,337.1 341.5,341.0 C341.9,344.9 341.5,346.5 341.0,350.0 C340.5,353.5 339.8,358.4 338.3,362.0 C336.8,365.6 334.6,369.4 332.2,371.8 C329.8,374.2 326.7,375.5 323.6,376.7 C320.5,377.9 316.5,379.0 313.8,379.1 C311.1,379.2 309.7,378.7 307.7,377.3 C305.7,375.9 303.2,373.3 301.6,370.5 C300.0,367.7 299.5,363.1 297.9,360.7 C296.3,358.2 293.9,357.0 291.8,355.8 C289.8,354.6 286.6,353.8 285.6,353.4" stroke-width="2.2"/>
<path d="M295.8,273.9 C297.1,275.0 300.8,277.9 303.5,280.5 C306.2,283.1 308.9,284.6 312.3,289.2 C315.7,293.8 320.3,302.1 323.6,308.4 C326.9,314.7 330.1,321.3 332.2,326.8 C334.2,332.3 335.4,337.3 335.9,341.5 C336.4,345.7 335.4,348.4 335.0,352.0 C334.6,355.6 334.5,359.9 333.4,363.2 C332.3,366.5 329.3,370.4 328.5,371.8" stroke-width="2.2"/>
<path d="M356.4,214.5 C357.6,214.0 361.0,212.1 363.7,211.4 C366.4,210.7 369.0,209.8 372.3,210.2 C375.6,210.6 379.9,212.5 383.3,213.9 C386.7,215.3 390.0,217.2 392.7,218.4 C395.4,219.6 397.8,220.9 399.3,220.9 C400.8,220.9 401.0,219.7 401.6,218.5 C402.2,217.3 402.2,215.2 402.8,214.0 C403.4,212.8 404.0,212.2 405.0,211.6 C406.0,211.0 407.6,210.7 409.0,210.2 C410.4,209.7 411.9,208.7 413.2,208.6 C414.5,208.5 415.5,208.9 416.8,209.6 C418.1,210.3 419.5,210.9 421.2,212.6 C422.9,214.2 423.8,215.7 426.8,219.5 C429.8,223.3 435.5,230.3 439.0,235.4 C442.5,240.5 445.5,245.3 447.6,250.1 C449.7,254.9 450.8,259.7 451.8,264.0 C452.8,268.3 453.5,272.0 453.8,276.0 C454.1,280.0 454.2,284.5 453.8,288.0 C453.4,291.5 452.8,294.2 451.5,297.0 C450.2,299.8 448.6,302.0 446.0,304.5 C443.4,307.0 437.7,310.7 436.0,311.9" stroke-width="2.2"/>
<path d="M358.8,215.1 C360.4,215.3 364.3,215.2 368.6,216.3 C372.9,217.4 380.0,219.7 384.6,221.4 C389.2,223.1 394.0,225.7 396.5,226.3 C399.0,227.0 399.0,226.1 399.8,225.3 C400.6,224.5 401.1,222.1 401.4,221.5" stroke-width="2.2"/>
<path d="M558.98,387.01 L559.25,387.39 L559.50,387.79 L559.74,388.20 L559.97,388.63 L560.18,389.07 L560.38,389.53 L560.57,390.01 L560.74,390.49 L560.89,391.00 L561.03,391.51 L561.16,392.04 L561.27,392.57 L561.36,393.13 L561.44,393.69 L561.51,394.26 L561.55,394.84 L561.59,395.43 L561.61,396.03 L561.61,396.64 L561.60,397.26 L561.57,397.88 L561.53,398.51 L561.47,399.15 L561.39,399.79 L561.30,400.44 L561.20,401.09 L561.08,401.74 L560.94,402.40 L560.79,403.06 L560.63,403.72 L560.45,404.38 L560.26,405.05 L560.05,405.71 L559.83,406.37 L559.60,407.03 L559.35,407.69 L559.09,408.35 L558.81,409.00 L558.52,409.65 L558.22,410.30 L557.91,410.94 L557.59,411.58 L557.25,412.21 L556.90,412.83 L556.54,413.44 L556.17,414.05 L555.79,414.65 L555.40,415.24 L555.00,415.82 L554.59,416.39 L554.18,416.95 L553.75,417.50 L553.31,418.04 L552.87,418.56 L552.42,419.08 L551.97,419.57 L551.50,420.06 L551.03,420.53 L550.56,420.99 L550.08,421.43 L549.59,421.86 L549.11,422.27 L548.61,422.67 L548.12,423.05 L547.62,423.41 L547.12,423.75 L546.61,424.08 L546.11,424.39 L545.60,424.68 L545.10,424.96 L544.59,425.21 L544.08,425.45 L543.58,425.66 L543.07,425.86 L542.57,426.04 L542.07,426.20 L541.57,426.34 L541.08,426.46 L540.59,426.56 L540.10,426.64" stroke-width="3.0"/>
</g>
<text x="382.5" y="57.2" font-size="17.0" font-family="Liberation Sans, sans-serif" text-anchor="start">8</text>
<path d="M326.60,147.60 L326.60,136.30 L322.90,139.50" fill="none" stroke="#111" stroke-width="2.10" stroke-linejoin="round" stroke-linecap="butt"/>
<path d="M362.80,169.30 L362.80,157.30 L359.30,160.80" fill="none" stroke="#111" stroke-width="2.10" stroke-linejoin="round" stroke-linecap="butt"/>
<path d="M371.20,169.30 L371.20,157.30 L367.50,160.80" fill="none" stroke="#111" stroke-width="2.10" stroke-linejoin="round" stroke-linecap="butt"/>
<path d="M183.60,294.20 L183.60,282.20 L179.90,285.80" fill="none" stroke="#111" stroke-width="2.10" stroke-linejoin="round" stroke-linecap="butt"/>
<path d="M192.30,294.20 L192.30,282.20 L188.50,285.80" fill="none" stroke="#111" stroke-width="2.10" stroke-linejoin="round" stroke-linecap="butt"/>
<path d="M413.40,382.60 L413.40,371.60 L410.00,374.40" fill="none" stroke="#111" stroke-width="2.10" stroke-linejoin="round" stroke-linecap="butt"/>
<text x="417.8" y="382.7" font-size="17.0" font-family="Liberation Sans, sans-serif" text-anchor="start">0</text>
<text x="585.0" y="496.6" font-size="29.0" font-family="Liberation Sans, sans-serif" text-anchor="start">Fig.</text>
<path d="M645.60,496.90 L645.60,475.80 L639.00,481.80" fill="none" stroke="#111" stroke-width="2.70" stroke-linejoin="round" stroke-linecap="butt"/>
<text x="640.5" y="119.6" font-size="17.0" font-family="Liberation Sans, sans-serif" text-anchor="start">2</text>
<rect x="648.5" y="100" width="30" height="30" fill="#fff"/>
<text x="244.3" y="143.4" font-size="17.0" font-family="Liberation Sans, sans-serif" text-anchor="start">4</text>
<text x="276.2" y="173.9" font-size="17.0" font-family="Liberation Sans, sans-serif" text-anchor="start">3</text>
<text x="522.6" y="317.0" font-size="17.0" font-family="Liberation Sans, sans-serif" text-anchor="start">5</text>
<text x="575.8" y="328.6" font-size="17.0" font-family="Liberation Sans, sans-serif" text-anchor="start">6</text>
<text x="265.3" y="406.6" font-size="17.0" font-family="Liberation Sans, sans-serif" text-anchor="start">7</text>
<text x="476.5" y="442.3" font-size="17.0" font-family="Liberation Sans, sans-serif" text-anchor="start">9</text>
<text x="344.8" y="458.0" font-size="17.0" font-family="Liberation Sans, sans-serif" text-anchor="start">REX</text>
<rect x="441" y="57" width="17.5" height="17.5" fill="none" stroke="#111" stroke-width="2.1"/>
<polygon points="446.3,104 452.7,104 449.5,113.5" fill="#111"/>
<polygon points="309.5,190 316.5,192 311.5,200" fill="#111"/>
<rect x="405.1" y="411.8" width="21.5" height="21.9" fill="none" stroke="#111" stroke-width="2.1"/>
<polygon points="366.8,345.5 365.5,354.5 372.5,351" fill="#111"/>
<polygon points="374.6,391.5 369.8,400.5 377,401.5" fill="#111"/>
</svg>
</body></html>
